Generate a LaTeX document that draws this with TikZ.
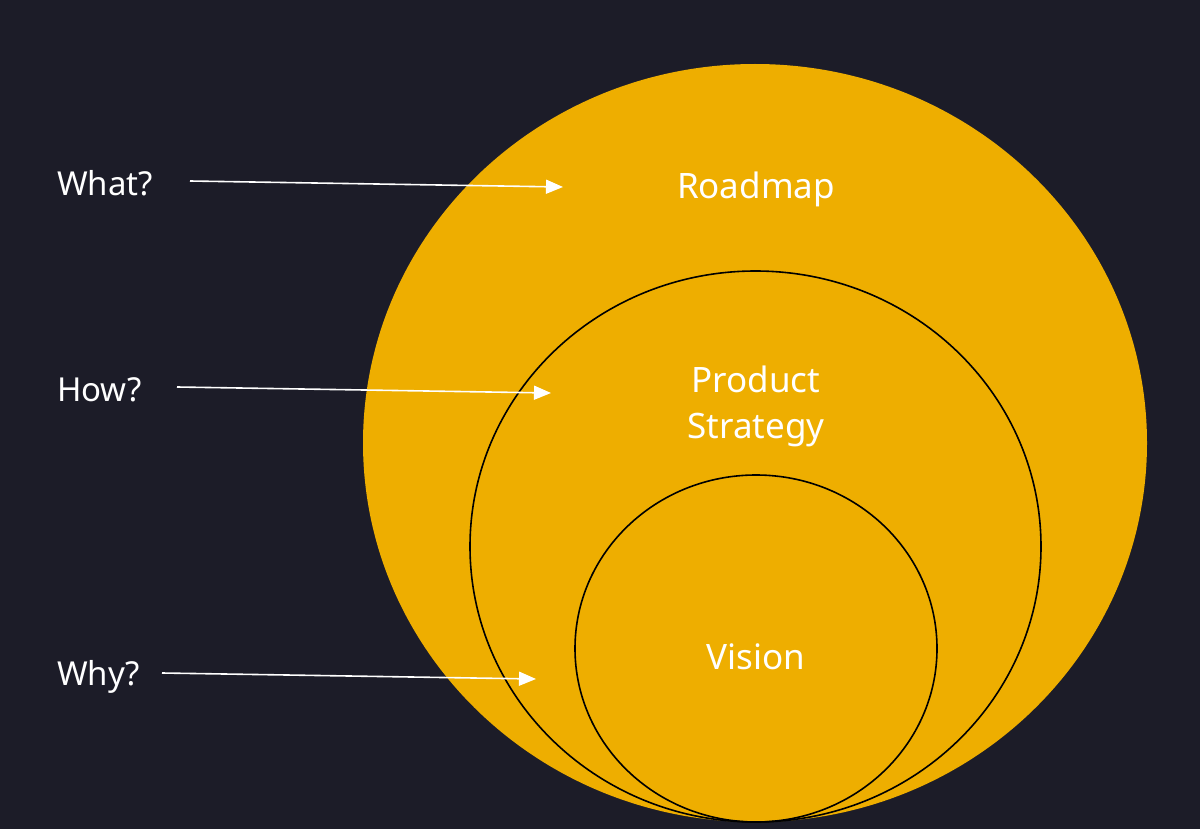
\documentclass[tikz,border=0pt]{standalone}
\usepackage{fontspec}
\setmainfont{Noto Sans}
\usetikzlibrary{arrows.meta}
\definecolor{bg}{HTML}{1C1C28}
\definecolor{gold}{HTML}{EEAE00}
\tikzset{
  lbl/.style={text=white,font=\fontsize{33}{40}\selectfont,inner sep=0pt},
  biglbl/.style={text=white,font=\fontsize{35}{46}\selectfont,inner sep=0pt,align=center},
  ring/.style={draw=black,line width=1.6pt},
  pointer/.style={draw=white,line width=1.6pt,-{Triangle[length=17pt,width=14pt]}}
}
\begin{document}
\begin{tikzpicture}[x=1pt,y=-1pt]
\fill[bg] (0,0) rectangle (1200,829);
\useasboundingbox (0,0) rectangle (1200,829);
\fill[gold] (755,443) ellipse [x radius=392, y radius=379];
\draw[ring] (755.5,546.5) ellipse [x radius=285.5, y radius=275.5];
\draw[ring] (756,648.5) ellipse [x radius=181, y radius=173.5];
\node[biglbl] (roadmap) at (756,189) {Roadmap};
\node[biglbl] (strategy) at (756,406) {Product\\Strategy};
\node[biglbl] (vision) at (756,657) {Vision};
\node[lbl,anchor=west] (what) at (57,183) {What?};
\node[lbl,anchor=west] (how) at (57,390) {How?};
\node[lbl,anchor=west] (why) at (57,677) {Why?};
\coordinate (whatS) at (190,181);
\coordinate (whatE) at (563,187);
\coordinate (howS) at (177,387);
\coordinate (howE) at (551,393);
\coordinate (whyS) at (162,673);
\coordinate (whyE) at (536,679);
\draw[pointer] (whatS) -- (whatE);
\draw[pointer] (howS) -- (howE);
\draw[pointer] (whyS) -- (whyE);
\end{tikzpicture}
\end{document}
